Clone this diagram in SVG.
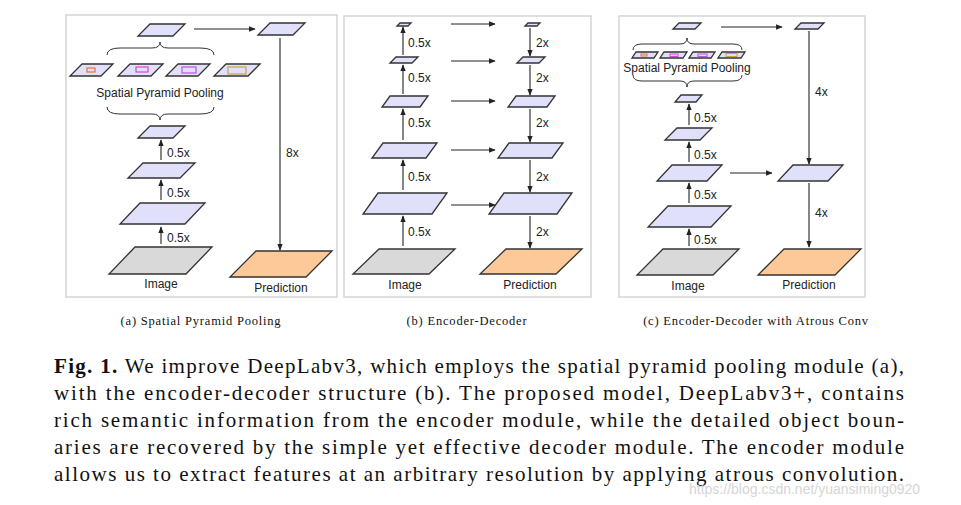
<svg xmlns="http://www.w3.org/2000/svg" width="961" height="505" viewBox="0 0 961 505">
<defs>
<marker id="ah" viewBox="0 0 10 10" refX="9" refY="5" markerWidth="6" markerHeight="6" orient="auto"><path d="M0,1 L10,5 L0,9 z" fill="#222"/></marker>
<style>
.f{fill:#e0e0fb;stroke:#333;stroke-width:1.3}
.img{fill:#d9d9d9;stroke:#333;stroke-width:1.3}
.pr{fill:#fdc998;stroke:#333;stroke-width:1.3}
.box{fill:#fff;stroke:#d5d5d5;stroke-width:1.5}
.c{stroke:#222;stroke-width:1.1;fill:none;marker-end:url(#ah)}
.br{stroke:#333;stroke-width:1;fill:none}
.t{font-family:"Liberation Sans",Arial,sans-serif;font-size:12px;fill:#222}
.cap{font-family:"Liberation Serif",serif;font-size:12.5px;fill:#111;letter-spacing:0.8px}
.p{font-family:"Liberation Serif",serif;font-size:21px;fill:#111}
.m{text-anchor:middle}
</style>
</defs>
<rect width="961" height="505" fill="#fff"/>
<rect class="box" x="66" y="15" width="271" height="282"/>
<rect class="box" x="344" y="16" width="247" height="281"/>
<rect class="box" x="619" y="16" width="246" height="281"/>

<g id="panel-a">
<g id="a-spp-out"><polygon class="f" points="150,24 185,24 173,36 138,36"/></g>
<g id="a-pred-small"><polygon class="f" points="270,23 305,23 293,35 258,35"/></g>
<path class="br" d="M107,55 Q107,48 120,48 L152,48 Q160,48 160,42 Q160,48 168,48 L200,48 Q214,48 214,55"/>
<g id="a-spp"><polygon class="f" points="82,64 113,64 101,76 70,76"/><rect x="87" y="68" width="8" height="4" fill="none" stroke="#f07030" stroke-width="1.2"/>
<polygon class="f" points="130,64 163,64 151,76 118,76"/><rect x="136" y="67" width="12" height="5" fill="none" stroke="#e040e0" stroke-width="1.2"/>
<polygon class="f" points="178,64 210,64 198,76 166,76"/><rect x="182" y="67" width="14" height="6" fill="none" stroke="#c050f0" stroke-width="1.2"/>
<polygon class="f" points="226,64 260,64 248,76 214,76"/><rect x="228" y="67" width="18" height="7" fill="none" stroke="#d0a040" stroke-width="1.2"/></g>
<text class="t m" x="160" y="97">Spatial Pyramid Pooling</text>
<path class="br" d="M107,107 Q107,114 120,114 L152,114 Q160,114 160,120 Q160,114 168,114 L200,114 Q214,114 214,107"/>
<g id="a-f3"><polygon class="f" points="150,126 185,126 173,138 138,138"/></g>
<g id="a-f2"><polygon class="f" points="143,163 195,163 180,178 128,178"/></g>
<g id="a-f1"><polygon class="f" points="140,203 205,203 185,224 120,224"/></g>
<g id="a-image"><polygon class="img" points="135,247 212,247 186,274 109,274"/></g>
<g id="a-pred"><polygon class="pr" points="256,251 332,251 306,277 230,277"/></g>
<text class="t m" x="161" y="288">Image</text>
<text class="t m" x="281" y="292">Prediction</text>
</g>

<g id="panel-b">
<polygon class="f" points="400,23 411,23 408,26 397,26"/>
<polygon class="f" points="528,23 540,23 537,26 525,26"/>
<polygon class="f" points="396,57 418,57 412,63 390,63"/>
<polygon class="f" points="523,57 545,57 539,63 517,63"/>
<polygon class="f" points="390,96 428,96 420,107 382,107"/>
<polygon class="f" points="516,96 555,96 547,107 508,107"/>
<polygon class="f" points="383,143 437,143 426,158 372,158"/>
<polygon class="f" points="509,143 563,143 552,158 498,158"/>
<polygon class="f" points="378,193 447,193 432,214 363,214"/>
<polygon class="f" points="504,193 572,193 557,214 489,214"/>
<polygon class="img" points="379,249 455,249 429,274 353,274"/>
<polygon class="pr" points="506,249 582,249 556,274 480,274"/>
<text class="t m" x="405" y="289">Image</text>
<text class="t m" x="530" y="289">Prediction</text>
</g>

<g id="panel-c">
<polygon class="f" points="679,23 701,23 695,29 673,29"/>
<polygon class="f" points="801,23 824,23 818,29 795,29"/>
<path class="br" d="M633,50 Q633,44 642,44 L680,44 Q687,44 687,38 Q687,44 694,44 L733,44 Q742,44 742,50"/>
<polygon class="f" points="636,52 658,52 654,58 632,58"/><rect x="641" y="54" width="6" height="2" fill="none" stroke="#f07030"/>
<polygon class="f" points="664,52 687,52 683,58 660,58"/><rect x="670" y="54" width="8" height="2.5" fill="none" stroke="#e040e0"/>
<polygon class="f" points="693,52 715,52 711,58 689,58"/><rect x="698" y="54" width="9" height="2.5" fill="none" stroke="#c050f0"/>
<polygon class="f" points="722,52 745,52 741,58 718,58"/><rect x="726" y="53.5" width="11" height="3" fill="none" stroke="#d0a040"/>
<text class="t m" x="687" y="72">Spatial Pyramid Pooling</text>
<path class="br" d="M633,75 Q633,81 642,81 L680,81 Q687,81 687,87 Q687,81 694,81 L733,81 Q742,81 742,75"/>
<polygon class="f" points="681,95 702,95 696,102 675,102"/>
<polygon class="f" points="677,128 712,128 700,140 665,140"/>
<polygon class="f" points="672,165 722,165 707,181 657,181"/>
<polygon class="f" points="668,206 731,206 711,227 648,227"/>
<polygon class="f" points="793,165 843,165 828,181 778,181"/>
<polygon class="img" points="663,249 739,249 713,275 637,275"/>
<polygon class="pr" points="784,249 861,249 835,275 758,275"/>
<text class="t m" x="688" y="290">Image</text>
<text class="t m" x="809" y="289">Prediction</text>
</g>

<g id="connectors">
<line class="c" x1="194" y1="29" x2="255" y2="29"/>
<line class="c" x1="280" y1="38" x2="280" y2="250"/>
<line class="c" x1="161" y1="160" x2="161" y2="140"/>
<line class="c" x1="161" y1="200" x2="161" y2="180"/>
<line class="c" x1="161" y1="244" x2="161" y2="227"/>
<line class="c" x1="403" y1="55" x2="403" y2="27"/>
<line class="c" x1="403" y1="94" x2="403" y2="65"/>
<line class="c" x1="403" y1="140" x2="403" y2="109"/>
<line class="c" x1="403" y1="190" x2="403" y2="160"/>
<line class="c" x1="403" y1="246" x2="403" y2="216"/>
<line class="c" x1="530" y1="28" x2="530" y2="56"/>
<line class="c" x1="530" y1="65" x2="530" y2="95"/>
<line class="c" x1="530" y1="109" x2="530" y2="142"/>
<line class="c" x1="530" y1="160" x2="530" y2="192"/>
<line class="c" x1="530" y1="216" x2="530" y2="248"/>
<line class="c" x1="451" y1="24" x2="495" y2="24"/>
<line class="c" x1="451" y1="61" x2="495" y2="61"/>
<line class="c" x1="451" y1="101" x2="495" y2="101"/>
<line class="c" x1="451" y1="150" x2="495" y2="150"/>
<line class="c" x1="451" y1="205" x2="495" y2="205"/>
<line class="c" x1="721" y1="27" x2="782" y2="27"/>
<line class="c" x1="809" y1="31" x2="809" y2="164"/>
<line class="c" x1="730" y1="173" x2="772" y2="173"/>
<line class="c" x1="809" y1="183" x2="809" y2="247"/>
<line class="c" x1="689" y1="125" x2="689" y2="104"/>
<line class="c" x1="689" y1="162" x2="689" y2="142"/>
<line class="c" x1="689" y1="203" x2="689" y2="183"/>
<line class="c" x1="689" y1="246" x2="689" y2="229"/>
</g>

<g id="labels">
<text class="t" x="167" y="157">0.5x</text>
<text class="t" x="167" y="197">0.5x</text>
<text class="t" x="167" y="242">0.5x</text>
<text class="t" x="286" y="157">8x</text>
<text class="t" x="408" y="47">0.5x</text>
<text class="t" x="408" y="82">0.5x</text>
<text class="t" x="408" y="127">0.5x</text>
<text class="t" x="408" y="181">0.5x</text>
<text class="t" x="408" y="236">0.5x</text>
<text class="t" x="536" y="47">2x</text>
<text class="t" x="536" y="82">2x</text>
<text class="t" x="536" y="127">2x</text>
<text class="t" x="536" y="181">2x</text>
<text class="t" x="536" y="236">2x</text>
<text class="t" x="694" y="122">0.5x</text>
<text class="t" x="694" y="159">0.5x</text>
<text class="t" x="694" y="199">0.5x</text>
<text class="t" x="694" y="244">0.5x</text>
<text class="t" x="815" y="96">4x</text>
<text class="t" x="815" y="217">4x</text>
</g>

<text class="cap m" x="201" y="325">(a) Spatial Pyramid Pooling</text>
<text class="cap m" x="467" y="325">(b) Encoder-Decoder</text>
<text class="cap m" x="756" y="325">(c) Encoder-Decoder with Atrous Conv</text>

<text class="p" x="54" y="373" textLength="850" lengthAdjust="spacing"><tspan font-weight="bold">Fig. 1.</tspan> We improve DeepLabv3, which employs the spatial pyramid pooling module (a),</text>
<text class="p" x="54" y="400" textLength="850" lengthAdjust="spacing">with the encoder-decoder structure (b). The proposed model, DeepLabv3+, contains</text>
<text class="p" x="54" y="427" textLength="850" lengthAdjust="spacing">rich semantic information from the encoder module, while the detailed object boun-</text>
<text class="p" x="54" y="454" textLength="850" lengthAdjust="spacing">aries are recovered by the simple yet effective decoder module. The encoder module</text>
<text class="p" x="54" y="481" textLength="850" lengthAdjust="spacing">allows us to extract features at an arbitrary resolution by applying atrous convolution.</text>
<text x="689" y="494" font-family="Liberation Sans,Arial,sans-serif" font-size="14" fill="#ccc" opacity="0.8">https://blog.csdn.net/yuansiming0920</text>
</svg>
